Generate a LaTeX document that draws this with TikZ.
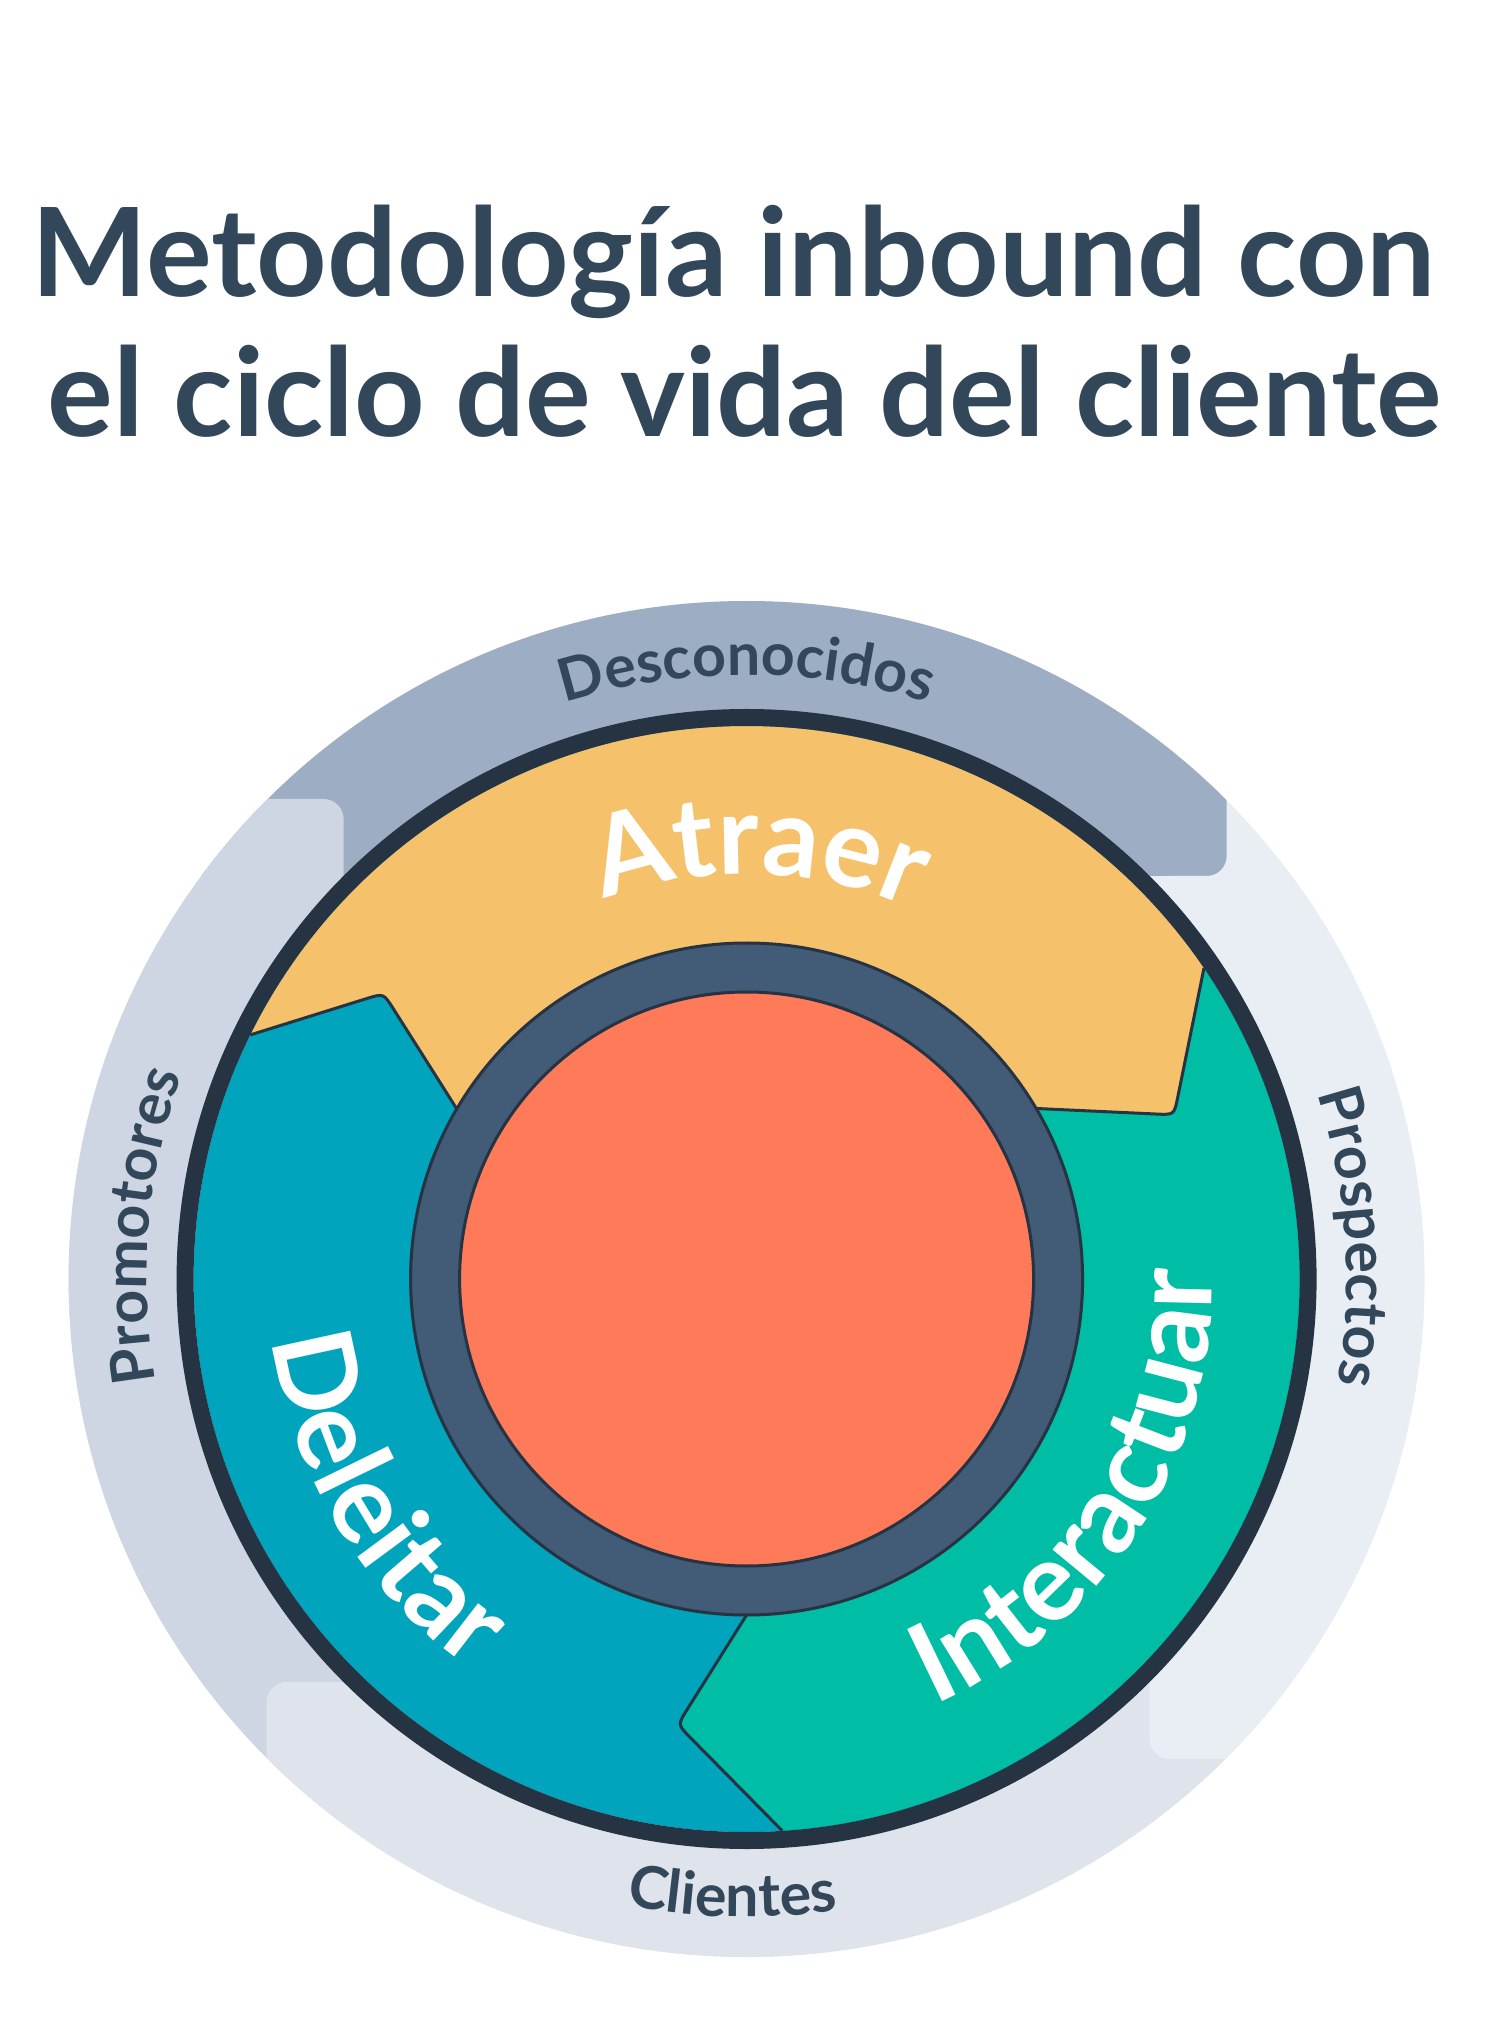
\documentclass[tikz,border=0pt]{standalone}
\usepackage{fontspec}
\setmainfont{Lato}
\usepackage{tikz}
\usetikzlibrary{calc, decorations.text}

\definecolor{titleblue}{HTML}{33475B}
\definecolor{ringdark}{HTML}{253342}
\definecolor{slate}{HTML}{425B76}
\definecolor{coral}{HTML}{FF7A59}
\definecolor{marigold}{HTML}{F5C26B}
\definecolor{oz}{HTML}{00BDA5}
\definecolor{calypso}{HTML}{00A4BD}
\definecolor{unknownband}{HTML}{9DADC3}
\definecolor{promoterband}{HTML}{CDD6E2}
\definecolor{prospectband}{HTML}{E9EEF5}
\definecolor{clientband}{HTML}{DFE3EC}

\newcommand{\titlefont}{\fontsize{35pt}{42pt}\selectfont\bfseries}
\newcommand{\bandfont}{\fontsize{16.8pt}{20pt}\selectfont\bfseries}
\newcommand{\stagefont}{\fontsize{31.5pt}{38pt}\selectfont\bfseries}

\begin{document}
\begin{tikzpicture}[x=0.01cm, y=0.01cm,
  titletext/.style={font=\titlefont, text=titleblue, inner sep=0pt, anchor=base},
  band/.style={rounded corners=0.2cm},
  tipline/.style={draw=ringdark, line width=0.03cm, line join=round},
  bandlabel/.style={decorate, decoration={text along path, text align=center, text color=titleblue}},
  stagelabel/.style={decorate, decoration={text along path, text align=center, text color=white}}]
\useasboundingbox (-746.6,-747) rectangle (745.4,1279);

% title
\node[titletext] (titleA) at (-13,982) {Metodología inbound con};
\node[titletext] (titleB) at (-2,842) {el ciclo de vida del cliente};

% outer bands
\begin{scope}
  \clip (0,0) circle[radius=678];
  \fill[prospectband] (0,0) circle[radius=678];
  \fill[unknownband, band] (-800,403) rectangle (480,800);
  \fill[promoterband, band] (-800,-800) rectangle (-403,480);
  \fill[clientband, band] (-480,-800) rectangle (800,-403);
  \fill[prospectband, band] (403,-480) rectangle (800,403);
\end{scope}

% arrow tips between stages
\coordinate (sA) at (30.5:336);  \coordinate (tA) at (21:458);    \coordinate (rA) at (34.2:553);
\coordinate (sI) at (270:336);   \coordinate (tI) at (261.2:451); \coordinate (rI) at (273.7:553);
\coordinate (sD) at (149.6:336); \coordinate (tD) at (141.8:462); \coordinate (rD) at (153.8:553);

\fill[calypso] (0,0) circle[radius=553];
\fill[marigold] (sA) -- ($(tA)!0.18cm!(sA)$) .. controls (tA) .. ($(tA)!0.18cm!(rA)$) -- (rA)
  arc[start angle=34.2, end angle=153.8, radius=553]
  -- ($(tD)!0.18cm!(rD)$) .. controls (tD) .. ($(tD)!0.18cm!(sD)$) -- (sD)
  arc[start angle=149.6, end angle=30.5, radius=336] -- cycle;
\fill[oz] (sA) -- ($(tA)!0.18cm!(sA)$) .. controls (tA) .. ($(tA)!0.18cm!(rA)$) -- (rA)
  arc[start angle=34.2, end angle=-86.3, radius=553]
  -- ($(tI)!0.18cm!(rI)$) .. controls (tI) .. ($(tI)!0.18cm!(sI)$) -- (sI)
  arc[start angle=-90, end angle=30.5, radius=336] -- cycle;

\draw[tipline] (sA) -- ($(tA)!0.18cm!(sA)$) .. controls (tA) .. ($(tA)!0.18cm!(rA)$) -- (rA);
\draw[tipline] (sI) -- ($(tI)!0.18cm!(sI)$) .. controls (tI) .. ($(tI)!0.18cm!(rI)$) -- (rI);
\draw[tipline] (sD) -- ($(tD)!0.18cm!(sD)$) .. controls (tD) .. ($(tD)!0.18cm!(rD)$) -- (rD);

% rings
\draw[ringdark, line width=0.17cm] (0,0) circle[radius=561.5];
\draw[fill=slate, draw=ringdark, line width=0.03cm] (0,0) circle[radius=336];
\draw[fill=coral, draw=ringdark, line width=0.03cm] (0,0) circle[radius=287];

% labels
\path[bandlabel, decoration={text={|\bandfont|Desconocidos}}] (135:604) arc[start angle=135, end angle=45, radius=604];
\path[bandlabel, decoration={text={|\bandfont|Prospectos}}] (34:600) arc[start angle=34, end angle=-26, radius=600];
\path[bandlabel, decoration={text={|\bandfont|Promotores}}] (205:600) arc[start angle=205, end angle=145, radius=600];
\path[bandlabel, decoration={text={|\bandfont|Clientes}}] (238:638) arc[start angle=238, end angle=299.4, radius=638];

\path[stagelabel, decoration={text={|\stagefont|Atraer}}] (150:405) arc[start angle=150, end angle=26.6, radius=405];
\path[stagelabel, decoration={text={|\stagefont|Interactuar}}] (-80:466) arc[start angle=-80, end angle=15, radius=466];
\path[stagelabel, decoration={text={|\stagefont|Deleitar}}] (170:478) arc[start angle=170, end angle=252, radius=478];
\end{tikzpicture}
\end{document}
